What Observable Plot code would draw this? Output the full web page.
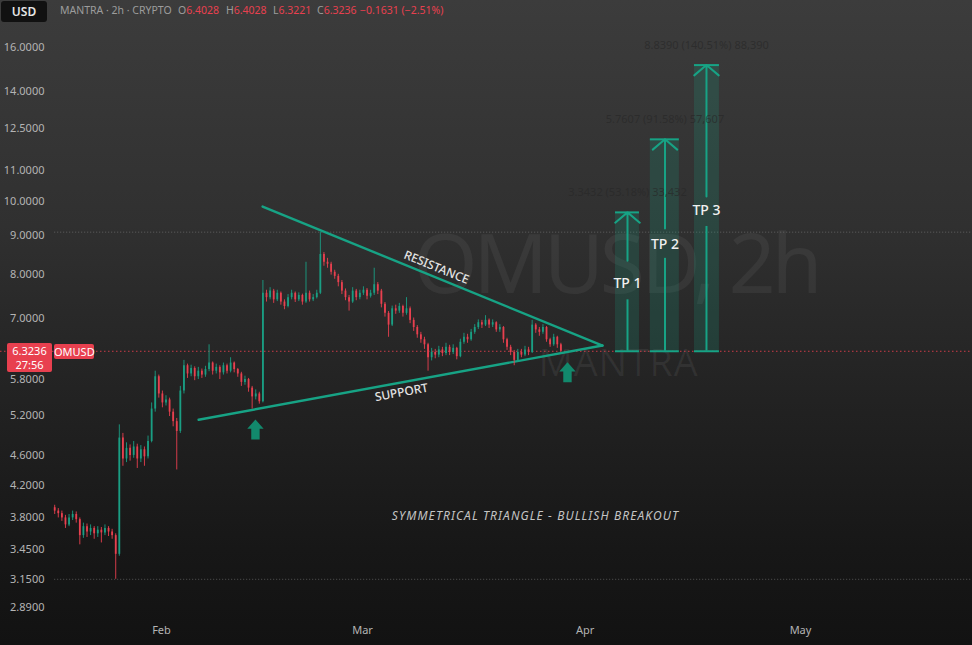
<!DOCTYPE html>
<html>
<head>
<meta charset="utf-8">
<script src="https://cdn.jsdelivr.net/npm/d3@7"></script>
<script src="https://cdn.jsdelivr.net/npm/@observablehq/plot@0.6"></script>
<style>
  html, body { margin: 0; padding: 0; background: #1a1a1a; }
  #wrap {
    position: relative; width: 972px; height: 645px; overflow: hidden;
    background: linear-gradient(to bottom, #3c3c3c 0%, #303030 35%, #222222 62%, #171717 85%, #121212 100%);
    font-family: "Noto Sans", sans-serif;
  }
  #wrap svg { position: absolute; left: 0; top: 0; }
  .hd { position: absolute; top: 2px; font-size: 10.5px; line-height: 16px; white-space: nowrap; }
  .g { color: #9c9c9c; }
  .r { color: #e8404f; }
  .usd { position: absolute; left: 1px; top: 1px; width: 46px; height: 21px; background: #111; border-radius: 3px;
         color: #e6e6e6; font-size: 12px; line-height: 21px; text-align: center; font-weight: 600; }
  .tag { position: absolute; background: #e8404f; color: #fff; font-size: 11px; border-radius: 2px; text-align: center; }
</style>
</head>
<body>
<div id="wrap"></div>
<script>
// ---------- data ----------
const firstOpen = 3.92;
const candleStart = "2025-01-17T03:00Z";
const candleStepHours = 12;
const closes = [
  3.88,3.85,3.80,3.72,3.80,3.84,3.78,3.60,3.70,3.64,
  3.68,3.62,3.66,3.63,3.68,3.64,3.60,3.40,4.85,4.55,
  4.70,4.60,4.72,4.55,4.68,4.58,4.80,5.30,5.85,5.55,
  5.40,5.45,5.25,5.10,4.95,5.60,6.05,5.90,6.00,5.85,
  5.95,5.88,5.98,6.10,5.95,6.02,5.92,6.05,5.95,6.10,
  5.98,5.90,5.75,5.80,5.65,5.50,5.55,5.42,7.55,7.45,
  7.60,7.40,7.55,7.35,7.25,7.45,7.55,7.40,7.50,7.35,
  7.55,7.40,7.45,7.55,8.50,8.30,8.25,8.05,7.95,7.80,
  7.60,7.45,7.35,7.60,7.45,7.55,7.62,7.48,7.55,7.75,
  7.60,7.30,7.10,6.85,7.20,7.15,7.25,7.10,7.20,6.95,
  6.80,6.65,6.55,6.45,6.20,6.30,6.25,6.35,6.28,6.40,
  6.30,6.38,6.22,6.50,6.60,6.55,6.70,6.80,6.90,6.85,
  6.95,6.85,6.90,6.75,6.80,6.55,6.40,6.30,6.15,6.30,
  6.25,6.35,6.30,6.85,6.75,6.70,6.80,6.55,6.45,6.60,
  6.45,6.3236];
const highs = [
  3.95,3.91,3.88,3.83,3.84,3.88,3.87,3.80,3.74,3.73,
  3.72,3.70,3.70,3.69,3.72,3.70,3.67,3.62,5.05,4.92,
  4.78,4.75,4.80,4.76,4.74,4.72,4.88,5.40,5.95,5.88,
  5.60,5.52,5.48,5.30,5.15,5.68,6.15,6.08,6.06,6.03,
  6.02,5.99,6.04,6.45,6.12,6.08,6.05,6.10,6.08,6.20,
  6.12,6.00,5.93,5.86,5.82,5.68,5.62,5.58,7.85,7.62,
  7.68,7.64,7.62,7.58,7.40,7.52,7.62,7.58,7.56,7.53,
  8.30,7.60,7.52,7.62,9.10,8.55,8.40,8.30,8.10,8.00,
  7.85,7.65,7.50,7.68,7.64,7.62,7.70,7.66,7.62,8.15,
  7.80,7.64,7.34,7.14,7.26,7.28,7.32,7.28,7.45,7.24,
  7.00,6.84,6.70,6.60,6.48,6.38,6.36,6.42,6.40,6.48,
  6.44,6.45,6.40,6.56,6.68,6.66,6.76,6.86,6.96,6.95,
  7.05,6.98,6.96,6.92,6.86,6.82,6.58,6.44,6.34,6.36,
  6.36,6.42,6.40,6.95,6.88,6.80,6.86,6.82,6.58,6.66,
  6.62,6.48];
const lows = [
  3.84,3.80,3.76,3.68,3.70,3.77,3.74,3.50,3.57,3.58,
  3.60,3.56,3.58,3.52,3.60,3.59,3.56,3.15,3.38,4.45,
  4.50,4.52,4.56,4.42,4.50,4.45,4.55,4.78,5.25,5.48,
  5.32,5.35,5.18,5.02,4.40,4.92,5.55,5.82,5.85,5.78,
  5.80,5.82,5.84,5.94,5.88,5.90,5.80,5.88,5.90,5.92,
  5.92,5.84,5.68,5.70,5.58,5.30,5.45,5.38,5.40,7.35,
  7.40,7.32,7.36,7.28,7.18,7.22,7.40,7.34,7.36,7.28,
  7.32,7.35,7.36,7.42,7.52,8.20,8.15,7.98,7.88,7.70,
  7.52,7.38,7.15,7.32,7.38,7.40,7.50,7.40,7.44,7.50,
  7.52,7.22,7.02,6.60,6.82,7.08,7.10,7.02,7.06,6.88,
  6.72,6.58,6.48,6.36,5.95,6.14,6.18,6.20,6.22,6.24,
  6.24,6.26,6.16,6.20,6.46,6.48,6.52,6.66,6.76,6.78,
  6.82,6.78,6.80,6.70,6.70,6.48,6.34,6.24,6.05,6.12,
  6.20,6.22,6.24,6.28,6.68,6.62,6.66,6.50,6.40,6.42,
  6.38,6.32];

const priceTicks = [16, 14, 12.5, 11, 10, 9, 8, 7, 5.8, 5.2, 4.6, 4.2, 3.8, 3.45, 3.15, 2.89];
const monthTickDates = ["2025-02-01", "2025-03-01", "2025-04-01", "2025-05-01"];
const monthTickLabels = ["Feb", "Mar", "Apr", "May"];

const resistanceDates = ["2025-02-15T02:00Z", "2025-04-03T10:00Z"];
const resistancePrices = [9.84, 6.435];
const supportDates = ["2025-02-06T04:00Z", "2025-04-03T10:00Z"];
const supportPrices = [5.13, 6.435];

const levelLines = [9.10, 3.15];
const lastPrice = 6.3236;

const tpLabels = ["TP 1", "TP 2", "TP 3"];
const tpStart = ["2025-04-05T05:30Z", "2025-04-10T02:00Z", "2025-04-16T05:30Z"];
const tpEnd = ["2025-04-08T13:40Z", "2025-04-14T03:00Z", "2025-04-19T17:00Z"];
const tpCenter = ["2025-04-06T21:40Z", "2025-04-12T03:00Z", "2025-04-17T21:40Z"];
const tpGain = [3.3432, 5.7607, 8.8390];
const tpGainText = ["3.3432 (53.18%) 33,432", "5.7607 (91.58%) 57,607", "8.8390 (140.51%) 88,390"];
const tpLabelPrice = [7.78, 8.76, 9.72];
const tpGapTop = [8.34, 9.20, 10.15];
const tpGapBottom = [7.40, 8.40, 9.26];

const arrowDates = ["2025-02-14T02:00Z", "2025-03-29T13:00Z"];
const arrowPrices = [4.98, 5.93];

const noteTexts = ["RESISTANCE", "SUPPORT"];
const noteDates = ["2025-03-11T07:00Z", "2025-03-06T10:00Z"];
const notePrices = [8.17, 5.575];
const noteAngles = [22.2, -10.4];

const patternTitle = "SYMMETRICAL TRIANGLE - BULLISH BREAKOUT";
const patternDate = "2025-03-25T02:00Z";
const patternPrice = 3.816;

const watermarkTitle = "OMUSD, 2h";
const watermarkSub = "MANTRA";

// ---------- build ----------
const UP = "#1a9e83", DOWN = "#e8404f", TEAL = "#17a385";
const t0 = new Date(candleStart).getTime();
const candles = closes.map((c, i) => ({
  date: new Date(t0 + i * candleStepHours * 3600e3),
  open: i ? closes[i - 1] : firstOpen,
  close: c, high: highs[i], low: lows[i]
}));
candles.forEach(d => d.color = d.close >= d.open ? UP : DOWN);
const firstDate = candles[0].date;
const endDate = new Date("2025-05-31T00:00Z");

const resistance = resistanceDates.map((d, i) => ({date: new Date(d), price: resistancePrices[i]}));
const support = supportDates.map((d, i) => ({date: new Date(d), price: supportPrices[i]}));
const tps = tpLabels.map((l, i) => ({
  label: l, start: new Date(tpStart[i]), end: new Date(tpEnd[i]), center: new Date(tpCenter[i]),
  base: lastPrice, top: lastPrice + tpGain[i], gainText: tpGainText[i],
  labelPrice: tpLabelPrice[i], gapTop: tpGapTop[i], gapBottom: tpGapBottom[i]
}));
const arrows = arrowDates.map((d, i) => ({date: new Date(d), price: arrowPrices[i]}));
const notes = noteTexts.map((t, i) => ({text: t, date: new Date(noteDates[i]), price: notePrices[i], angle: noteAngles[i]}));
const months = monthTickDates.map((d, i) => ({date: new Date(d + "T00:00Z"), label: monthTickLabels[i]}));

const blockArrow = {
  draw(ctx, size) {
    const s = Math.sqrt(size / Math.PI);
    ctx.moveTo(0, -s);
    ctx.lineTo(0.82 * s, -0.08 * s);
    ctx.lineTo(0.42 * s, -0.08 * s);
    ctx.lineTo(0.42 * s, s);
    ctx.lineTo(-0.42 * s, s);
    ctx.lineTo(-0.42 * s, -0.08 * s);
    ctx.lineTo(-0.82 * s, -0.08 * s);
    ctx.closePath();
  }
};

const chart = Plot.plot({
  width: 972, height: 645,
  marginTop: 0, marginRight: 0, marginBottom: 0, marginLeft: 0,
  style: {background: "transparent", fontFamily: '"Noto Sans", sans-serif', overflow: "visible"},
  x: {type: "utc", domain: [new Date("2025-01-01T00:00Z"), endDate], range: [-61.58, 1015.42], axis: null},
  y: {type: "log", domain: [2.89, 16], range: [607, 47], axis: null},
  color: {type: "identity"},
  marks: [
    // watermark
    Plot.text([watermarkTitle], {frameAnchor: "top-left", dx: 413, dy: 266, text: d => d, textAnchor: "start",
      lineAnchor: "middle", fontSize: 82, fill: "#ffffff", fillOpacity: 0.055}),
    Plot.text([watermarkSub], {frameAnchor: "top-left", dx: 538, dy: 363, text: d => d, textAnchor: "start",
      lineAnchor: "middle", fontSize: 38, fill: "#ffffff", fillOpacity: 0.06}),
    // level lines
    Plot.ruleY(levelLines, {x1: firstDate, x2: endDate, stroke: "#8a8a8a", strokeOpacity: 0.55, strokeDasharray: "1,2"}),
    Plot.ruleY([lastPrice], {stroke: DOWN, strokeOpacity: 0.85, strokeDasharray: "1.5,2.5"}),
    // TP boxes
    Plot.rect(tps, {x1: "start", x2: "end", y1: "base", y2: "top", fill: "#18a083", fillOpacity: 0.2}),
    Plot.ruleY(tps, {y: "top", x1: "start", x2: "end", stroke: TEAL, strokeWidth: 2}),
    Plot.ruleY(tps, {y: "base", x1: "start", x2: "end", stroke: TEAL, strokeWidth: 2}),
    Plot.ruleX(tps, {x: "center", y1: "base", y2: "gapBottom", stroke: TEAL, strokeWidth: 2}),
    Plot.arrow(tps, {x1: "center", x2: "center", y1: "gapTop", y2: "top", stroke: TEAL, strokeWidth: 2,
      headAngle: 100, headLength: 12}),
    Plot.text(tps, {x: "center", y: "labelPrice", text: "label", fill: "#f0f0f0", fontSize: 14, fontWeight: 500}),
    Plot.text(tps, {x: "center", y: "top", dy: -20, text: "gainText", fill: "#282828", fillOpacity: 0.7, fontSize: 11}),
    // trendlines
    Plot.line(resistance, {x: "date", y: "price", stroke: TEAL, strokeWidth: 2.4}),
    Plot.line(support, {x: "date", y: "price", stroke: TEAL, strokeWidth: 2.4}),
    // candles
    Plot.ruleX(candles, {x: "date", y1: "low", y2: "high", stroke: "color", strokeWidth: 0.9}),
    Plot.ruleX(candles, {x: "date", y1: "open", y2: "close", stroke: "color", strokeWidth: 1.8}),
    // arrows
    Plot.dot(arrows, {x: "date", y: "price", symbol: blockArrow, r: 10, fill: "#12896c", stroke: "none"}),
    // notes
    Plot.text(notes, {x: "date", y: "price", text: "text", rotate: "angle", fill: "#e4e4e4", fontSize: 12, fontWeight: 500}),
    Plot.text([patternTitle], {x: new Date(patternDate), y: patternPrice, text: d => d, fill: "#c4c4c4",
      fontSize: 12, fontStyle: "italic"}),
    // price axis
    Plot.text(priceTicks, {y: d => d, text: d => d.toFixed(4), frameAnchor: "left", dx: 44, textAnchor: "end",
      fill: "#b4b4b4", fontSize: 11}),
    // month axis
    Plot.text(months, {x: "date", text: "label", frameAnchor: "bottom", dy: -12, fill: "#b4b4b4", fontSize: 11})
  ]
});

// letter spacing tweaks (text styling)
const spacing = {[patternTitle]: "1.1px", [watermarkTitle]: "-4px", [watermarkSub]: "0.5px"};
d3.select(chart).selectAll("text").each(function () {
  const s = spacing[this.textContent];
  if (s) this.setAttribute("letter-spacing", s);
});

const wrap = document.getElementById("wrap");
wrap.appendChild(chart);

// header + price tags
const yPx = chart.scale("y").apply(lastPrice);
wrap.insertAdjacentHTML("beforeend", `
  <div class="usd">USD</div>
  <div class="hd g" style="left:60px">MANTRA · 2h · CRYPTO</div>
  <div class="hd" style="left:178px"><span class="g">O</span><span class="r">6.4028</span></div>
  <div class="hd" style="left:226px"><span class="g">H</span><span class="r">6.4028</span></div>
  <div class="hd" style="left:273px"><span class="g">L</span><span class="r">6.3221</span></div>
  <div class="hd" style="left:317px"><span class="g">C</span><span class="r">6.3236</span></div>
  <div class="hd r" style="left:360px">−0.1631 (−2.51%)</div>
  <div class="tag" style="left:7px;top:${yPx - 8}px;width:45px;height:29px;line-height:14px;padding-top:1px;box-sizing:border-box">${lastPrice.toFixed(4)}<br>27:56</div>
  <div class="tag" style="left:54px;top:${yPx - 7}px;width:40px;height:15px;line-height:15px">OMUSD</div>
`);
</script>
</body>
</html>
